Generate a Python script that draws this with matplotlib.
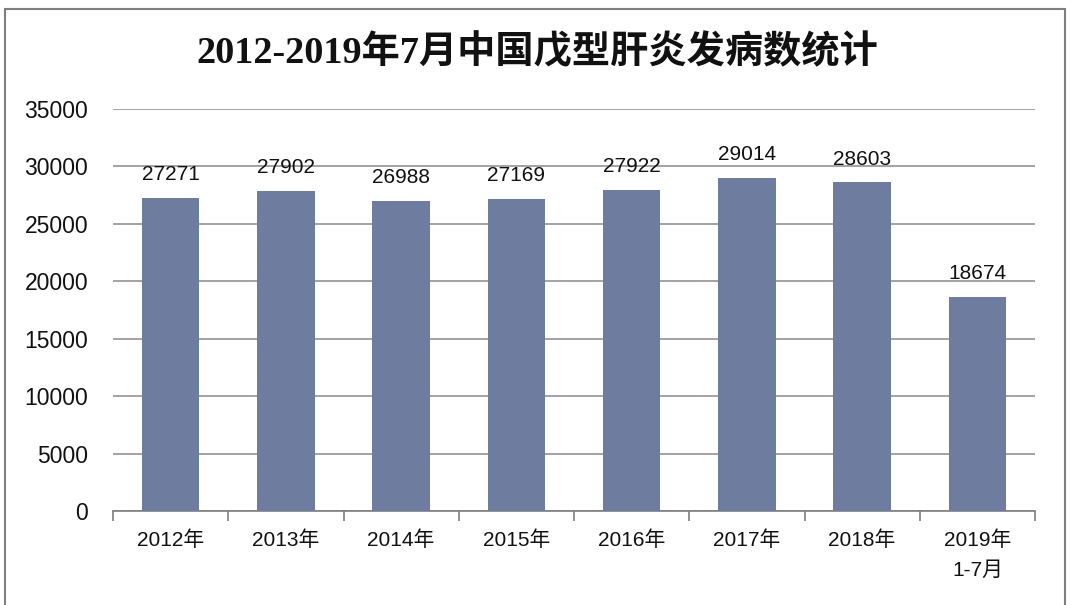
import matplotlib
matplotlib.use("Agg")
import matplotlib.pyplot as plt
from matplotlib.patches import Rectangle

plt.rcParams['font.family'] = ['Liberation Sans', 'Noto Sans CJK SC', 'DejaVu Sans']

categories = ['2012年', '2013年', '2014年', '2015年', '2016年', '2017年', '2018年', '2019年\n1-7月']
values = [27271, 27902, 26988, 27169, 27922, 29014, 28603, 18674]
yticks = [0, 5000, 10000, 15000, 20000, 25000, 30000, 35000]
title = '2012-2019年7月中国戊型肝炎发病数统计'

W, H = 1074, 605
fig = plt.figure(figsize=(W / 100, H / 100), dpi=100)
fig.patch.set_facecolor('white')

# outer border
fig.patches.append(Rectangle((5 / W, -0.05), (1065 - 5) / W, (H - 9) / H + 0.05,
                             transform=fig.transFigure, fill=False,
                             edgecolor='#7f7f7f', linewidth=1.5, clip_on=False))

ax = fig.add_axes([113 / W, 1 - 511 / H, (1035 - 113) / W, (511 - 109) / H])
x = list(range(len(categories)))
ax.bar(x, values, width=0.5, color='#6E7C9F', zorder=3)

for xi, v in zip(x, values):
    ax.annotate(str(v), (xi, v), xytext=(0, 10), textcoords='offset points',
                ha='center', va='bottom', fontsize=15, color='#111111', zorder=4)

ax.set_xlim(-0.5, len(categories) - 0.5)
ax.set_ylim(0, 35000)
ax.set_yticks(yticks)
ax.set_yticklabels([str(t) for t in yticks], fontsize=16.5, color='#111111')
ax.yaxis.grid(True, color='#8a8a8a', linewidth=1.1, zorder=0)
ax.tick_params(axis='y', length=0, pad=18)

ax.set_xticks(x)
ax.set_xticklabels(categories, fontsize=15, color='#111111', linespacing=1.75)
ax.set_xticks([i - 0.5 for i in range(len(categories) + 1)], minor=True)
ax.tick_params(axis='x', which='major', length=0, pad=14)
ax.tick_params(axis='x', which='minor', length=7, color='#7f7f7f', width=1.2)

for s in ['top', 'right', 'left']:
    ax.spines[s].set_visible(False)
ax.spines['bottom'].set_color('#7f7f7f')
ax.spines['bottom'].set_linewidth(1.2)
ax.set_axisbelow(True)

fig.text(537 / W, 1 - 53 / H, title, ha='center', va='center', fontsize=27.5,
         fontweight='bold', family=['Liberation Serif', 'Noto Sans CJK SC'], color='#111111')

fig.savefig('out.png', dpi=100)
